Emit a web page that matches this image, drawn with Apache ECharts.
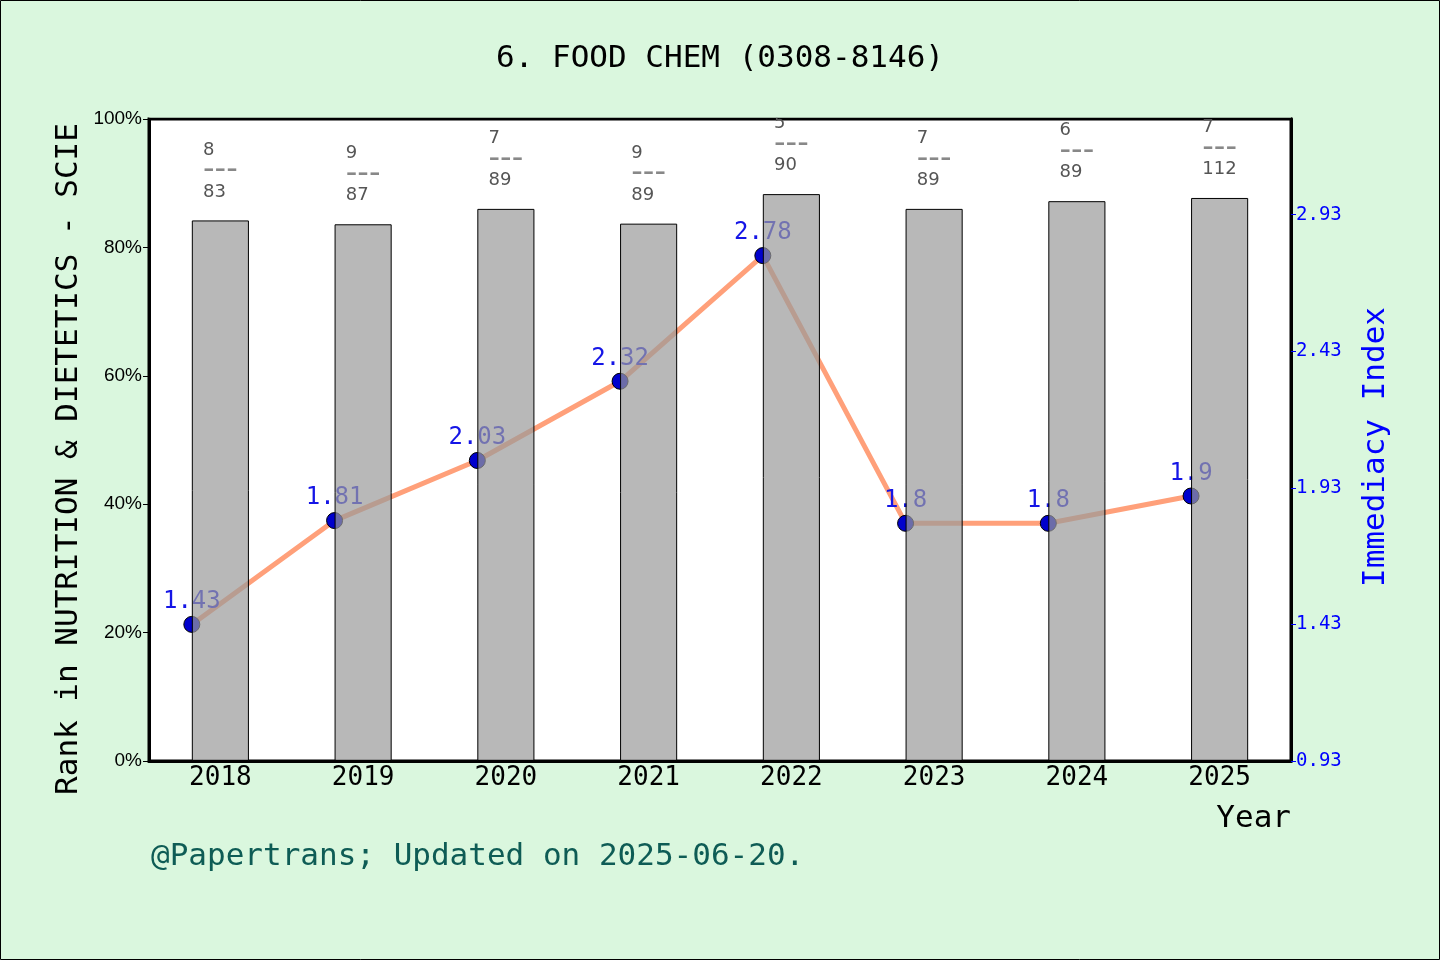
<!DOCTYPE html>
<html>
<head>
<meta charset="utf-8">
<script src="https://cdn.jsdelivr.net/npm/echarts@6/dist/echarts.min.js"></script>
<style>
html,body{margin:0;padding:0;background:#daf7de;}
#chart{width:1440px;height:960px;}
</style>
</head>
<body>
<div id="chart"></div>
<script>
const years = ['2018','2019','2020','2021','2022','2023','2024','2025'];
const rankPercent = [84.2, 83.6, 86.0, 83.7, 88.3, 86.0, 87.2, 87.7];
const ranks = [8, 9, 7, 9, 5, 7, 6, 7];
const totals = [83, 87, 89, 89, 90, 89, 89, 112];
const immediacy = [1.43, 1.81, 2.03, 2.32, 2.78, 1.8, 1.8, 1.9];
const leftTicks = [0, 20, 40, 60, 80, 100];
const rightTicks = [0.93, 1.43, 1.93, 2.43, 2.93];

const MONO = 'DejaVu Sans Mono';
const BG = '#daf7de';

const chart = echarts.init(document.getElementById('chart'));
const option = {
  backgroundColor: BG,
  animation: false,
  title: [
    {
      text: '6. FOOD CHEM (0308-8146)',
      left: 'center', top: 38, z: 200,
      textStyle: {fontFamily: MONO, fontSize: 31, fontWeight: 'normal', color: '#000'}
    },
    {
      text: '@Papertrans; Updated on 2025-06-20.',
      left: 146, top: 836, z: 200,
      textStyle: {fontFamily: MONO, fontSize: 31, fontWeight: 'normal', color: '#0e5c55'}
    }
  ],
  graphic: [
    {type: 'rect', z: 100, silent: true,
     shape: {x: 149, y: 0, width: 1142, height: 117.5},
     style: {fill: BG}},
    {type: 'rect', z: 100, silent: true,
     shape: {x: 0.5, y: 0.5, width: 1439, height: 959},
     style: {fill: 'none', stroke: '#000', lineWidth: 1}}
  ],
  grid: {
    left: 149, right: 149, top: 119, bottom: 199,
    show: true, backgroundColor: '#fff', borderColor: '#000', borderWidth: 3
  },
  xAxis: [
    {
      type: 'category', data: years, gridIndex: 0,
      axisLine: {onZero: false, lineStyle: {color: '#000', width: 3}},
      axisTick: {inside: true, length: 5, lineStyle: {color: '#000', width: 1}},
      axisLabel: {fontFamily: MONO, fontSize: 26, color: '#000', margin: 4},
      name: 'Year', nameLocation: 'end', nameGap: 0, nameMoveOverlap: false,
      nameTextStyle: {fontFamily: MONO, fontSize: 31, color: '#000', align: 'right', verticalAlign: 'top', padding: [42, 0, 0, 0]}
    },
    {
      type: 'value', gridIndex: 0, min: -0.3, max: 7.7, show: false
    }
  ],
  yAxis: [
    {
      type: 'value', min: 0, max: 100, interval: 20,
      axisLine: {show: true, onZero: false, lineStyle: {color: '#000', width: 3}},
      axisTick: {show: true, length: 6, lineStyle: {color: '#000', width: 1}},
      splitLine: {show: false},
      axisLabel: {formatter: '{value}%', fontFamily: 'Liberation Sans', fontSize: 19, color: '#000', margin: 7,
                  customValues: leftTicks},
      name: 'Rank in NUTRITION & DIETETICS - SCIE', nameLocation: 'middle', nameGap: 65, nameRotate: 90,
      nameMoveOverlap: false,
      nameTextStyle: {fontFamily: MONO, fontSize: 31, color: '#000', padding: [0, 38, 0, 0]}
    },
    {
      type: 'value', min: 0.93, max: 3.28, position: 'right',
      axisLine: {show: true, onZero: false, lineStyle: {color: '#000', width: 3}},
      axisTick: {show: true, length: 5, lineStyle: {color: '#0000ff', width: 1}, customValues: rightTicks},
      splitLine: {show: false},
      axisLabel: {fontFamily: MONO, fontSize: 19, color: '#0000ff', margin: 5, customValues: rightTicks,
                  formatter: v => v.toFixed(2)},
      name: 'Immediacy Index', nameLocation: 'middle', nameGap: 69, nameRotate: 90,
      nameMoveOverlap: false,
      nameTextStyle: {fontFamily: MONO, fontSize: 31, color: '#0000ff', padding: [0, 14, 0, 0]}
    }
  ],
  series: [
    {
      type: 'line', xAxisIndex: 1, yAxisIndex: 1, z: 2,
      data: immediacy.map((v, i) => [i, v]),
      symbol: 'circle', symbolSize: 16,
      itemStyle: {color: '#0000cd', borderColor: '#000', borderWidth: 1},
      lineStyle: {color: '#ffa07a', width: 5},
      label: {show: true, position: 'top', distance: 2, color: '#1515e6', fontFamily: MONO, fontSize: 24,
              formatter: p => String(p.value[1])}
    },
    {
      type: 'bar', xAxisIndex: 0, yAxisIndex: 0, z: 3,
      data: rankPercent, barWidth: '40%',
      itemStyle: {color: 'rgba(154,154,154,0.7)', borderColor: '#000', borderWidth: 1},
      label: {
        show: true, position: 'top', distance: 18, color: '#555',
        formatter: p => '{n|' + ranks[p.dataIndex] + '}\n{d|---}\n{n|' + totals[p.dataIndex] + '}',
        rich: {
          n: {fontFamily: 'DejaVu Sans', fontSize: 18, lineHeight: 21, color: '#555', align: 'left'},
          d: {fontFamily: 'DejaVu Sans', fontSize: 32, lineHeight: 21, color: '#888', align: 'left'}
        }
      }
    }
  ]
};
chart.setOption(option);
</script>
</body>
</html>
